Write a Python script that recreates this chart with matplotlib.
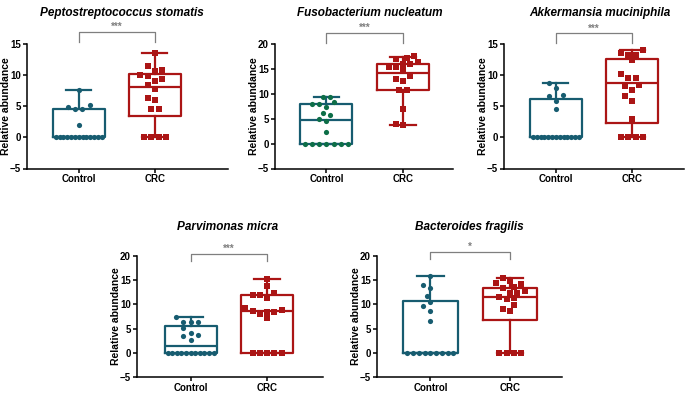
import numpy as np
import matplotlib
matplotlib.use("Agg")
import matplotlib.pyplot as plt

plt.rcParams['font.family'] = ['Liberation Sans', 'DejaVu Sans']

# ---------------- data ----------------
titles = ["Peptostreptococcus stomatis", "Fusobacterium nucleatum", "Akkermansia muciniphila",
          "Parvimonas micra", "Bacteroides fragilis"]
groups = ["Control", "CRC"]
signif = ["***", "***", "***", "***", "*"]

ctrl_vals = [
    [0]*13 + [2.0, 4.5, 4.5, 4.8, 5.2, 7.6],
    [0]*7 + [2.3, 4.5, 4.9, 5.7, 6.1, 7.3, 8.0, 8.0, 8.4, 9.4, 9.4],
    [0]*13 + [4.5, 5.9, 6.6, 6.8, 7.9, 8.7],
    [0]*11 + [2.6, 3.5, 3.7, 4.1, 5.2, 6.4, 6.4, 6.4, 7.35],
    [0]*9 + [6.5, 8.6, 9.7, 10.4, 11.7, 13.4, 14.0, 15.8],
]
crc_vals = [
    [0, 0, 0, 0, 4.6, 4.6, 6.0, 6.4, 7.7, 8.4, 9.0, 9.35, 9.8, 10.1, 10.6, 10.8, 11.5, 13.5],
    [3.7, 3.9, 6.9, 10.7, 10.7, 12.6, 13.0, 13.6, 14.8, 15.3, 15.3, 16.0, 16.0, 16.3, 16.9, 17.2, 17.5],
    [0, 0, 0, 0, 3.0, 5.9, 6.6, 7.6, 8.3, 8.4, 9.5, 9.5, 10.2, 12.5, 13.3, 13.3, 13.5, 14.1],
    [0]*5 + [7.1, 8.0, 8.4, 8.4, 8.6, 8.8, 9.2, 11.4, 12.0, 12.0, 12.4, 13.7, 15.2],
    [0]*4 + [8.6, 9.0, 9.9, 11.1, 11.4, 11.6, 12.3, 12.3, 12.8, 13.4, 13.6, 14.3, 14.5, 14.9, 15.5],
]
# box summaries: (whislo, q1, med, q3, whishi)
ctrl_box = [(0, 0, 0, 4.6, 7.6), (0, 0, 4.7, 8.05, 9.4), (0, 0, 0, 6.2, 8.7),
            (0, 0, 1.4, 5.45, 7.4), (0, 0, 0, 10.75, 15.8)]
crc_box = [(0, 3.4, 8.05, 10.2, 13.6), (3.7, 10.7, 14.2, 16.0, 17.4), (0, 2.3, 8.7, 12.6, 14.1),
           (0, 0, 8.55, 12.0, 15.2), (0, 6.8, 11.5, 13.4, 15.5)]
ymaxs = [15, 20, 15, 20, 20]
bracket_hi = [16.9, 22.2, 16.7, 20.5, 20.9]
bracket_lo = [15.3, 20.2, 15.2, 19.0, 19.3]

# ---------------- layout ----------------
W, H = 685, 393
rects = [(27, 228, 44, 168.5), (275, 453, 44, 168.5), (504, 684, 44, 168.5),
         (137, 323, 256, 377), (377, 562, 256, 377)]
xlims = [(-0.68, 1.96), (-0.67, 1.65), (-0.68, 1.68), (-0.70, 1.73), (-0.67, 1.65)]
title_pos = [(122, 13), (370, 13), (600, 13), (227.5, 227), (469, 227)]

teal = "#175c70"
green = "#0d6e47"
red = "#ab1515"
gray = "#7f7f7f"
ctrl_pt_colors = [teal, green, teal, teal, teal]

fig = plt.figure(figsize=(W/100, H/100), dpi=100)


def swarm(vals, pxy, step=7.3, maxw=46, dmin=7.0):
    """Beeswarm offsets in pixels: tied values form a centred row, others avoid overlaps."""
    vals = np.asarray(vals, float)
    off = np.zeros(len(vals))
    placed = []  # (x_px, y_px)
    cands = sorted([k * step / 2 for k in range(-8, 9)], key=lambda c: (abs(c), c))
    for v in np.unique(vals):
        idx = np.where(vals == v)[0]
        y = v * pxy
        n = len(idx)
        if n > 1:
            st = min(step, maxw / (n - 1))
            base = [(k - (n - 1) / 2) * st for k in range(n)]
            # shift row sideways if it collides
            best = 0.0
            for c in cands:
                ok = all(np.hypot(b + c - px, y - py) >= dmin * 0.8 for b in base for px, py in placed)
                if ok:
                    best = c
                    break
            for k, i in enumerate(idx):
                off[i] = base[k] + best if n < 6 else base[k]
                placed.append((off[i], y))
        else:
            chosen = cands[-1]
            for c in cands:
                if all(np.hypot(c - px, y - py) >= dmin for px, py in placed):
                    chosen = c
                    break
            off[idx[0]] = chosen
            placed.append((chosen, y))
    return off


for p in range(5):
    x0, x1, yt, yb = rects[p]
    ax = fig.add_axes([x0 / W, (H - yb) / H, (x1 - x0) / W, (yb - yt) / H])
    ax.set_xlim(*xlims[p])
    ax.set_ylim(-5, ymaxs[p])
    pxx = (x1 - x0) / (xlims[p][1] - xlims[p][0])
    pxy = (yb - yt) / (ymaxs[p] + 5)

    stats = []
    for b in (ctrl_box[p], crc_box[p]):
        stats.append(dict(whislo=b[0], q1=b[1], med=b[2], q3=b[3], whishi=b[4], fliers=[]))
    art = ax.bxp(stats, positions=[0, 1], widths=0.68, capwidths=0.33, showfliers=False,
                 manage_ticks=False)
    cols = [teal, red]
    for i, c in enumerate(cols):
        art['boxes'][i].set(color=c, linewidth=1.6)
        art['medians'][i].set(color=c, linewidth=1.6)
        for w in art['whiskers'][2*i:2*i+2]:
            w.set(color=c, linewidth=1.6)
        for cp in art['caps'][2*i:2*i+2]:
            cp.set(color=c, linewidth=1.6)

    off = swarm(ctrl_vals[p], pxy)
    ax.scatter(0 + off / pxx, ctrl_vals[p], s=14, marker='o', color=ctrl_pt_colors[p],
               linewidths=0, zorder=5, clip_on=False)
    off = swarm(crc_vals[p], pxy)
    ax.scatter(1 + off / pxx, crc_vals[p], s=20, marker='s', color=red,
               linewidths=0, zorder=5, clip_on=False)

    # significance bracket
    ax.plot([0, 0, 1, 1], [bracket_lo[p], bracket_hi[p], bracket_hi[p], bracket_lo[p]],
            color=gray, lw=0.9, clip_on=False)
    ax.text(0.5, bracket_hi[p], signif[p], ha='center', va='bottom', color=gray,
            fontsize=7, fontweight='bold')

    for s in ['top', 'right']:
        ax.spines[s].set_visible(False)
    for s in ['left', 'bottom']:
        ax.spines[s].set_linewidth(1.1)
    ax.set_yticks(range(-5, ymaxs[p] + 1, 5))
    ax.set_xticks([0, 1])
    ax.set_xticklabels(groups)
    ax.tick_params(axis='y', length=3, width=1.1, labelsize=7, pad=1.5)
    ax.tick_params(axis='x', length=3, width=1.1, labelsize=7, pad=1)
    for lab in ax.get_xticklabels() + ax.get_yticklabels():
        lab.set_fontweight('bold')
    ax.set_ylabel("Relative abundance", fontsize=7.5, fontweight='bold')
    ax.yaxis.set_label_coords(-16 / (x1 - x0), 0.5)

    tx, ty = title_pos[p]
    fig.text(tx / W, 1 - ty / H, titles[p], ha='center', va='center', fontsize=8.5,
             fontweight='bold', fontstyle='italic')

fig.savefig("out.png", dpi=100)
